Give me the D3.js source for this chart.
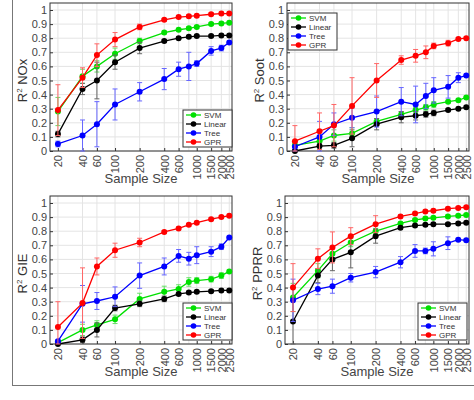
<!DOCTYPE html><html><head><meta charset="utf-8">
<script src="https://cdn.jsdelivr.net/npm/d3@7"></script>
<style>body{margin:0;background:#fff}text{font-family:"Liberation Sans",Arial,sans-serif}</style></head><body>
<svg id="c" width="474" height="400"></svg>
<script>
const sizes=[20,40,60,100,200,400,600,800,1000,1500,2000,2500];
const tickLabels=[20,40,60,100,200,400,600,1000,1500,2000,2500];
const yTicks=[0,.1,.2,.3,.4,.5,.6,.7,.8,.9,1];
const methods=["SVM","Linear","Tree","GPR"];
const colors={SVM:"#00e000",Linear:"#000000",Tree:"#0000ff",GPR:"#ff0000"};
const errColors={SVM:"#66e066",Linear:"#666666",Tree:"#6666ff",GPR:"#ff6666"};
const noxSVM=[.28,.53,.60,.69,.78,.84,.86,.87,.88,.90,.905,.91];
const noxLinear=[.12,.44,.50,.63,.73,.78,.80,.81,.815,.815,.82,.82];
const noxTree=[.05,.11,.19,.33,.42,.51,.58,.60,.62,.71,.73,.77];
const noxGPR=[.29,.52,.68,.79,.88,.93,.95,.955,.96,.97,.975,.975];
const noxErrSVM=[.1,.05,.04,.04,.02,.01,.01,.01,.01,.01,.01,.01];
const noxErrLinear=[.02,.04,.13,.05,.04,.01,.01,.01,.01,.01,.01,.01];
const noxErrTree=[.02,.11,.16,.11,.065,.075,.05,.1,.02,.03,.02,.01];
const noxErrGPR=[.18,.07,.08,.05,.02,.01,.01,.01,.01,.01,.01,.01];
const sootSVM=[.04,.07,.11,.125,.21,.26,.29,.31,.33,.35,.36,.38];
const sootLinear=[0,.035,.04,.09,.19,.24,.25,.26,.27,.29,.30,.31];
const sootTree=[.03,.10,.19,.235,.28,.35,.33,.39,.43,.455,.52,.535];
const sootGPR=[.07,.14,.18,.32,.50,.645,.675,.70,.745,.765,.795,.80];
const sootErrSVM=[.03,.03,.04,.04,.02,.02,.02,.02,.02,.01,.01,.01];
const sootErrLinear=[.01,.02,.02,.06,.04,.04,.03,.02,.02,.01,.01,.01];
const sootErrTree=[.03,.11,.08,.07,.11,.1,.13,.09,.09,.08,.035,.01];
const sootErrGPR=[.11,.13,.15,.2,.12,.03,.045,.045,.02,.02,.01,.01];
const gieSVM=[.01,.10,.135,.175,.32,.37,.39,.44,.45,.46,.485,.515];
const gieLinear=[0,.03,.10,.255,.285,.32,.355,.365,.37,.375,.38,.38];
const gieTree=[.02,.285,.305,.335,.485,.55,.625,.605,.63,.655,.69,.755];
const gieGPR=[.12,.29,.55,.665,.72,.795,.82,.845,.86,.885,.90,.91];
const gieErrSVM=[.01,.04,.03,.03,.04,.04,.03,.03,.02,.02,.02,.01];
const gieErrLinear=[.005,.02,.05,.02,.02,.02,.01,.01,.01,.01,.01,.01];
const gieErrTree=[.01,.13,.06,.07,.09,.06,.045,.045,.06,.035,.02,.01];
const gieErrGPR=[.18,.25,.06,.05,.03,.01,.01,.01,.01,.01,.01,.01];
const pprrSVM=[.33,.52,.64,.72,.80,.855,.88,.89,.895,.905,.91,.915];
const pprrLinear=[.16,.485,.60,.65,.765,.825,.84,.845,.85,.85,.855,.86];
const pprrTree=[.31,.39,.41,.47,.51,.58,.66,.66,.675,.715,.74,.735];
const pprrGPR=[.40,.605,.685,.765,.85,.905,.925,.94,.945,.96,.965,.97];
const pprrErrSVM=[.1,.05,.04,.03,.02,.01,.01,.01,.01,.01,.01,.01];
const pprrErrLinear=[.16,.05,.08,.11,.05,.01,.01,.01,.01,.01,.01,.01];
const pprrErrTree=[.15,.04,.05,.03,.04,.04,.045,.02,.05,.045,.01,.01];
const pprrErrGPR=[.17,.07,.11,.06,.06,.01,.01,.01,.01,.01,.01,.01];

const panels=[
 {label:"NOx",x0:50,x1:232,y0:10,y1:151,leg:[183,110],v:{SVM:noxSVM,Linear:noxLinear,Tree:noxTree,GPR:noxGPR},e:{SVM:noxErrSVM,Linear:noxErrLinear,Tree:noxErrTree,GPR:noxErrGPR}},
 {label:"Soot",x0:287,x1:469,y0:10,y1:151,leg:[288,13],v:{SVM:sootSVM,Linear:sootLinear,Tree:sootTree,GPR:sootGPR},e:{SVM:sootErrSVM,Linear:sootErrLinear,Tree:sootErrTree,GPR:sootErrGPR}},
 {label:"GIE",x0:50,x1:232,y0:203,y1:344,leg:[183,303],v:{SVM:gieSVM,Linear:gieLinear,Tree:gieTree,GPR:gieGPR},e:{SVM:gieErrSVM,Linear:gieErrLinear,Tree:gieErrTree,GPR:gieErrGPR}},
 {label:"PPRR",x0:285,x1:469,y0:203,y1:344,leg:[418,303],v:{SVM:pprrSVM,Linear:pprrLinear,Tree:pprrTree,GPR:pprrGPR},e:{SVM:pprrErrSVM,Linear:pprrErrLinear,Tree:pprrErrTree,GPR:pprrErrGPR}}
];
const svg=d3.select("#c");
svg.append("line").attr("x1",12.5).attr("x2",12.5).attr("y1",0).attr("y2",386).attr("stroke","#777");
svg.append("line").attr("x1",12).attr("x2",474).attr("y1",385.5).attr("y2",385.5).attr("stroke","#777");
panels.forEach(p=>{
 const x=d3.scaleLog().domain([16,2700]).range([p.x0,p.x1]);
 const y=d3.scaleLinear().domain([0,1]).range([p.y1,p.y0]);
 const g=svg.append("g");
 g.append("rect").attr("x",p.x0).attr("y",p.y0-7).attr("width",p.x1-p.x0).attr("height",p.y1-p.y0+7).attr("fill","#fff");
 g.selectAll(".gx").data(sizes).join("line").attr("x1",d=>x(d)).attr("x2",d=>x(d)).attr("y1",p.y0-7).attr("y2",p.y1).attr("stroke","#e4e4e4");
 g.selectAll(".gy").data(yTicks).join("line").attr("x1",p.x0).attr("x2",p.x1).attr("y1",d=>y(d)).attr("y2",d=>y(d)).attr("stroke","#e4e4e4");
 g.append("rect").attr("x",p.x0).attr("y",p.y0-7).attr("width",p.x1-p.x0).attr("height",p.y1-p.y0+7).attr("fill","none").attr("stroke","#333");
 const ya=g.append("g").attr("transform",`translate(${p.x0},0)`).call(d3.axisLeft(y).tickValues(yTicks).tickSize(-3).tickFormat(d3.format("~g")));
 ya.select(".domain").remove();
 ya.selectAll("text").attr("font-size",11).attr("fill","#444").attr("x",-3);
 ya.selectAll("line").attr("stroke","#333");
 const xa=g.append("g").attr("transform",`translate(0,${p.y1})`).call(d3.axisBottom(x).tickValues(tickLabels).tickSize(-3).tickFormat(d3.format("d")));
 xa.select(".domain").remove();
 xa.selectAll("line").attr("stroke","#333");
 xa.selectAll("text").attr("font-size",11).attr("fill","#444").attr("transform","rotate(-90)").attr("text-anchor","end").attr("x",-4).attr("y",0).attr("dy","0.35em");
 const t=g.append("text").attr("transform",`translate(${p.x0-23},${(p.y0+p.y1)/2}) rotate(-90)`).attr("text-anchor","middle").attr("font-size",13).attr("fill","#333");
 t.append("tspan").text("R");t.append("tspan").attr("font-size",8).attr("dy",-5).text("2");t.append("tspan").attr("dy",5).text(" "+p.label);
 g.append("text").attr("x",(p.x0+p.x1)/2).attr("y",p.y1+32).attr("text-anchor","middle").attr("font-size",13).attr("fill","#444").text("Sample Size");
 methods.forEach(m=>{
  const vals=p.v[m],errs=p.e[m];
  const eg=g.append("g").attr("stroke",errColors[m]).attr("stroke-width",1);
  sizes.forEach((s,i)=>{
   const lo=Math.max(0,vals[i]-errs[i]),hi=Math.min(1,vals[i]+errs[i]);
   eg.append("line").attr("x1",x(s)).attr("x2",x(s)).attr("y1",y(lo)).attr("y2",y(hi));
   eg.append("line").attr("x1",x(s)-2.5).attr("x2",x(s)+2.5).attr("y1",y(lo)).attr("y2",y(lo));
   eg.append("line").attr("x1",x(s)-2.5).attr("x2",x(s)+2.5).attr("y1",y(hi)).attr("y2",y(hi));
  });
  g.append("path").datum(vals).attr("fill","none").attr("stroke",colors[m]).attr("stroke-width",1.3)
   .attr("d",d3.line().x((d,i)=>x(sizes[i])).y(d=>y(d)));
  g.selectAll(null).data(vals).join("circle").attr("cx",(d,i)=>x(sizes[i])).attr("cy",d=>y(d)).attr("r",3).attr("fill",colors[m]);
 });
 const [lx,ly]=p.leg;
 const lg=g.append("g").attr("transform",`translate(${lx},${ly})`);
 lg.append("rect").attr("width",49).attr("height",37).attr("fill","#fff").attr("stroke","#333");
 methods.forEach((m,i)=>{
  const yy=5+i*9;
  lg.append("line").attr("x1",3).attr("x2",18).attr("y1",yy).attr("y2",yy).attr("stroke",colors[m]).attr("stroke-width",1.3);
  lg.append("circle").attr("cx",10.5).attr("cy",yy).attr("r",2.8).attr("fill",colors[m]);
  lg.append("text").attr("x",21).attr("y",yy).attr("dy","0.35em").attr("font-size",8).attr("fill","#333").text(m);
 });
});
</script></body></html>
